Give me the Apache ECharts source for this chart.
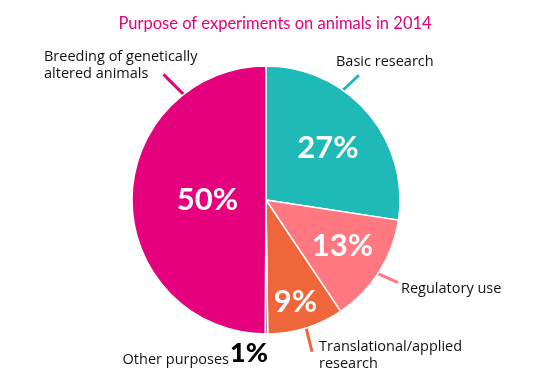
<!DOCTYPE html>
<html><head><meta charset="utf-8">
<script src="https://cdn.jsdelivr.net/npm/echarts@6/dist/echarts.min.js"></script>
<style>html,body{margin:0;padding:0;background:#fff}#c{width:540px;height:380px}</style>
</head><body><div id="c"></div>
<script>
// ---- data ----
const categories = ['Basic research', 'Regulatory use', 'Translational/applied research', 'Other purposes', 'Breeding of genetically altered animals'];
const values = [27.4, 13.2, 9.2, 0.3, 49.9];
const percentLabels = ['27%', '13%', '9%', '1%', '50%'];
const outerLabels = ['Basic research', 'Regulatory use', 'Translational/applied\nresearch', 'Other purposes', 'Breeding of genetically\naltered animals'];
const colors = ['#1FBAB8', '#FF7781', '#EE6639', '#808080', '#E5007D'];

// ---- layout / style ----
const CX = 266, CY = 200, R = 134;
const FONT = 'Lato';
const OFONT = 'Open Sans';
const outerPos = [
  [336, 62, 'left', 'middle'],
  [401, 289, 'left', 'middle'],
  [319, 338.5, 'left', 'top'],
  [268, 367, 'right', 'bottom'],
  [44, 48.5, 'left', 'top']
];
// leader: [angle clockwise from top (deg), dx, dy]
const leaders = [[35, 16, -15], [123.3, 20, 9], [162.6, 6, 24], null, [322, -20, -20]];
const innerPos = [[328, 148], [342.5, 245.5], [295.5, 301.5], null, [207.5, 200]];

const data = categories.map((c, i) => ({
  name: c,
  value: values[i],
  itemStyle: { color: colors[i] },
  labelLine: { show: !!leaders[i], lineStyle: { color: colors[i], width: 3 } }
}));

const chart = echarts.init(document.getElementById('c'), null, { renderer: 'canvas' });
chart.setOption({
  animation: false,
  title: {
    text: 'Purpose of experiments on animals in 2014',
    left: 270, top: 10, textAlign: 'center',
    textStyle: { color: '#E6007E', fontSize: 16.5, fontWeight: 'normal', fontFamily: FONT }
  },
  series: [
    {
      type: 'pie', center: [CX, CY], radius: R, startAngle: 90, clockwise: true,
      avoidLabelOverlap: false, silent: true,
      itemStyle: { borderColor: '#fff', borderWidth: 1.5 },
      data: data,
      label: {
        show: true, position: 'outside', color: '#111', fontSize: 14.5, fontFamily: OFONT, lineHeight: 17,
        formatter: p => p.dataIndex === 3 ? '{a|' + outerLabels[3] + '}{b|' + percentLabels[3] + '}' : outerLabels[p.dataIndex],
        rich: {
          a: { fontSize: 14.5, fontFamily: OFONT, color: '#111', lineHeight: 16, verticalAlign: 'bottom' },
          b: { fontSize: 27, fontFamily: FONT, fontWeight: 900, color: '#000', lineHeight: 30, verticalAlign: 'bottom', padding: [0, 0, 0, 1] }
        }
      },
      labelLine: { show: true, length: 20, length2: 0 },
      labelLayout: function (p) {
        const i = p.dataIndex, pos = outerPos[i];
        const o = { x: pos[0], y: pos[1], align: pos[2], verticalAlign: pos[3] };
        const L = leaders[i];
        if (L) {
          const a = L[0] * Math.PI / 180;
          const sx = CX + R * Math.sin(a), sy = CY - R * Math.cos(a);
          o.labelLinePoints = [[sx, sy], [sx + L[1], sy + L[2]], [sx + L[1], sy + L[2]]];
        }
        return o;
      }
    },
    {
      type: 'pie', center: [CX, CY], radius: R, startAngle: 90, clockwise: true,
      avoidLabelOverlap: false, silent: true,
      itemStyle: { color: 'rgba(0,0,0,0)', borderWidth: 0 },
      data: categories.map((c, i) => ({ name: c, value: values[i] })),
      label: {
        show: true, position: 'inside', color: '#fff', fontSize: 31, fontWeight: 'bold', fontFamily: FONT,
        formatter: p => innerPos[p.dataIndex] ? percentLabels[p.dataIndex] : ''
      },
      labelLine: { show: false },
      labelLayout: function (p) {
        const pos = innerPos[p.dataIndex];
        if (!pos) return {};
        return { x: pos[0], y: pos[1], align: 'center', verticalAlign: 'middle' };
      }
    }
  ]
});
</script></body></html>
